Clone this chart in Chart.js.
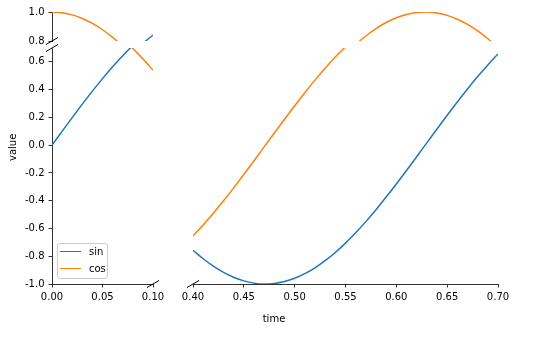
<!DOCTYPE html>
<html><head><meta charset="utf-8">
<script src="https://cdn.jsdelivr.net/npm/chart.js@4"></script>
<style>
body{margin:0;background:#fff;width:539px;height:341px;overflow:hidden;position:relative;font-family:'DejaVu Sans',sans-serif;}
canvas{position:absolute;left:0;top:0;}
.lbl{position:absolute;font-size:10px;color:#000;white-space:nowrap;line-height:12px;}
#legend{position:absolute;left:57px;top:243px;width:49px;height:34px;border:1px solid #cccccc;border-radius:3px;background:rgba(255,255,255,0.8);}
.row{position:absolute;left:0;height:12px;font-size:10px;line-height:12px;}
.row .h{position:absolute;left:2px;top:5px;width:21px;height:0;border-top:1.5px solid;}
.row .t{position:absolute;left:31px;top:0;}
</style></head><body>
<canvas id="tl" width="539" height="341"></canvas>
<canvas id="bl" width="539" height="341"></canvas>
<canvas id="tr" width="539" height="341"></canvas>
<canvas id="br" width="539" height="341"></canvas>
<div class="lbl" style="left:0;top:142px;width:26px;text-align:center;transform:rotate(-90deg);">value</div>
<div class="lbl" style="left:254px;top:313px;width:40px;text-align:center;">time</div>
<div id="legend">
  <div class="row" style="top:2px"><div class="h" style="border-color:#1f77b4"></div><div class="t">sin</div></div>
  <div class="row" style="top:19px"><div class="h" style="border-color:#ff7f0e"></div><div class="t">cos</div></div>
</div>
<script>
// ---- data ----
const seriesNames = ['sin', 'cos'];
const xLeft  = [0.00,0.01,0.02,0.03,0.04,0.05,0.06,0.07,0.08,0.09,0.10];
const sinLeft = [0.0000,0.0998,0.1987,0.2955,0.3894,0.4794,0.5646,0.6442,0.7174,0.7833,0.8415];
const cosLeft = [1.0000,0.9950,0.9801,0.9553,0.9211,0.8776,0.8253,0.7648,0.6967,0.6216,0.5403];
const xRight = [0.40,0.41,0.42,0.43,0.44,0.45,0.46,0.47,0.48,0.49,0.50,0.51,0.52,0.53,0.54,0.55,0.56,0.57,0.58,0.59,0.60,0.61,0.62,0.63,0.64,0.65,0.66,0.67,0.68,0.69,0.70];
const sinRight = [-0.7568,-0.8183,-0.8716,-0.9162,-0.9516,-0.9775,-0.9937,-0.9999,-0.9962,-0.9825,-0.9589,-0.9258,-0.8835,-0.8323,-0.7728,-0.7055,-0.6313,-0.5507,-0.4646,-0.3739,-0.2794,-0.1822,-0.0831,0.0168,0.1165,0.2151,0.3115,0.4048,0.4941,0.5784,0.6570];
const cosRight = [-0.6536,-0.5748,-0.4903,-0.4008,-0.3073,-0.2108,-0.1122,-0.0124,0.0875,0.1865,0.2837,0.3780,0.4685,0.5544,0.6347,0.7087,0.7756,0.8347,0.8855,0.9275,0.9602,0.9833,0.9965,0.9999,0.9932,0.9766,0.9502,0.9144,0.8694,0.8157,0.7539];

// ---- ticks ----
const xTicksLeft = [0.00, 0.05, 0.10];
const xTickLabelsLeft = ['0.00', '0.05', '0.10'];
const xTicksRight = [0.40, 0.45, 0.50, 0.55, 0.60, 0.65, 0.70];
const xTickLabelsRight = ['0.40', '0.45', '0.50', '0.55', '0.60', '0.65', '0.70'];
const yTicksTop = [0.8, 1.0];
const yTickLabelsTop = ['0.8', '1.0'];
const yTicksBottom = [-1.0, -0.8, -0.6, -0.4, -0.2, 0.0, 0.2, 0.4, 0.6];
const yTickLabelsBottom = ['-1.0', '-0.8', '-0.6', '-0.4', '-0.2', '0.0', '0.2', '0.4', '0.6'];

const colors = ['#1f77b4', '#ff7f0e'];
Chart.defaults.font.family = "'DejaVu Sans', sans-serif";
Chart.defaults.font.size = 10;
Chart.defaults.color = '#000';

const toPts = (xs, ys) => xs.map((x, i) => ({x: x, y: ys[i]}));

const breakPlugin = {
  id: 'breaks',
  afterDraw(chart, args, opts) {
    const ctx = chart.ctx, a = chart.chartArea;
    ctx.save();
    ctx.strokeStyle = '#000';
    ctx.lineWidth = 1;
    (opts.marks || []).forEach(m => {
      const cx = m[0] === 'l' ? a.left : a.right;
      const cy = m[1] === 't' ? a.top : a.bottom;
      ctx.beginPath();
      ctx.moveTo(cx - 6, cy + 3.5);
      ctx.lineTo(cx + 6, cy - 3.5);
      ctx.stroke();
    });
    ctx.restore();
  }
};

function axis(show, min, max, ticks, labels, isX) {
  return {
    type: 'linear', display: show, min: min, max: max,
    afterBuildTicks: s => { s.ticks = ticks.map(v => ({value: v})); },
    afterFit: s => { if (!show) return; if (isX) s.height = 31; else s.width = 40; },
    ticks: { callback: (v, i) => labels[i], autoSkip: false, maxRotation: 0, padding: 4, color: '#000', font: {size: 10} },
    grid: { display: true, drawOnChartArea: false, drawTicks: true, tickLength: 3.5, tickWidth: 0.8, tickColor: '#000' },
    border: { display: true, color: '#000', width: 0.8 }
  };
}

function make(id, side, part, marks) {
  const left = side === 'left';
  const top = part === 'top';
  const xs = left ? xLeft : xRight;
  const data = {
    datasets: [
      { label: seriesNames[0], data: toPts(xs, left ? sinLeft : sinRight), borderColor: colors[0] },
      { label: seriesNames[1], data: toPts(xs, left ? cosLeft : cosRight), borderColor: colors[1] }
    ]
  };
  data.datasets.forEach(d => { d.borderWidth = 1.5; d.pointRadius = 0; d.fill = false; d.cubicInterpolationMode = 'monotone'; });
  new Chart(document.getElementById(id), {
    type: 'line',
    data: data,
    options: {
      responsive: false, animation: false, devicePixelRatio: 1,
      events: [],
      layout: { padding: {
        left: left ? 12 : 193,
        right: left ? 386 : 41,
        top: top ? 12 : 48,
        bottom: top ? 300 : 26
      } },
      scales: {
        x: axis(!top, left ? 0 : 0.4, left ? 0.1 : 0.7, left ? xTicksLeft : xTicksRight, left ? xTickLabelsLeft : xTickLabelsRight, true),
        y: axis(left, top ? 0.8 : -1.0, top ? 1.0 : 0.7, top ? yTicksTop : yTicksBottom, top ? yTickLabelsTop : yTickLabelsBottom, false)
      },
      plugins: { legend: { display: false }, tooltip: { enabled: false }, breaks: { marks: marks } }
    },
    plugins: [breakPlugin]
  });
}

make('tl', 'left', 'top', [['l', 'b']]);
make('bl', 'left', 'bottom', [['l', 't'], ['r', 'b']]);
make('tr', 'right', 'top', []);
make('br', 'right', 'bottom', [['l', 'b']]);
</script>
</body></html>
